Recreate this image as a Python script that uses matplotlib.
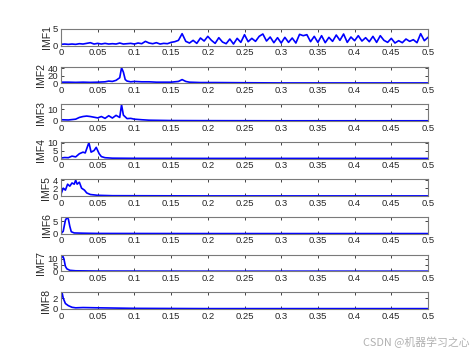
import matplotlib
matplotlib.use("Agg")
import matplotlib.pyplot as plt
import numpy as np

plt.rcParams['font.family'] = ['Liberation Sans', 'DejaVu Sans']

labels = ["IMF1", "IMF2", "IMF3", "IMF4", "IMF5", "IMF6", "IMF7", "IMF8"]
xticks = [0, 0.05, 0.1, 0.15, 0.2, 0.25, 0.3, 0.35, 0.4, 0.45, 0.5]
xticklabels = ["0", "0.05", "0.1", "0.15", "0.2", "0.25", "0.3", "0.35", "0.4", "0.45", "0.5"]

f1 = [i * 0.005 for i in range(101)]
a1 = [0.4, 0.5, 0.4, 0.5, 0.4, 0.6, 0.5, 0.7, 0.9, 0.5,
      0.7, 0.5, 0.7, 0.5, 0.6, 0.5, 0.8, 0.5, 0.6, 0.7,
      0.5, 0.8, 0.6, 1.3, 0.8, 0.6, 0.9, 0.5, 0.7, 0.6,
      1.0, 1.2, 1.6, 3.6, 1.3, 0.8, 1.6, 0.7, 2.3, 1.4,
      2.8, 1.6, 0.7, 2.4, 1.1, 0.6, 2.0, 0.5, 2.2, 1.0,
      3.3, 1.2, 2.2, 1.3, 2.8, 3.5, 1.4, 2.6, 0.9, 2.4,
      0.8, 2.5, 1.0, 2.3, 0.8, 3.4, 3.0, 3.3, 1.2, 2.8,
      1.0, 3.0, 0.9, 2.5, 1.3, 3.2, 1.6, 3.5, 1.0, 2.6,
      1.5, 3.0, 1.4, 2.4, 1.2, 2.8, 1.0, 3.0, 1.6, 1.0,
      2.2, 0.8, 1.5, 0.9, 2.0, 1.3, 1.8, 0.9, 3.6, 1.5,
      2.5]

f2 = [0, 0.01, 0.02, 0.03, 0.04, 0.05, 0.06, 0.065, 0.07, 0.075, 0.08, 0.0825, 0.085,
      0.0875, 0.09, 0.095, 0.1, 0.11, 0.12, 0.13, 0.14, 0.15, 0.16, 0.165, 0.17, 0.175,
      0.19, 0.21, 0.25, 0.3, 0.35, 0.4, 0.45, 0.5]
a2 = [3, 3, 2.5, 3, 2.5, 3, 4, 6, 5, 8, 15, 42, 30,
      10, 6, 4, 5, 4, 4, 3, 3, 3, 5, 10, 5, 3,
      2, 2, 1.5, 1, 1, 1, 1, 1]

f3 = [0, 0.01, 0.02, 0.025, 0.03, 0.035, 0.04, 0.045, 0.05, 0.055, 0.06, 0.065, 0.07,
      0.075, 0.08, 0.0825, 0.085, 0.09, 0.095, 0.1, 0.11, 0.12, 0.15, 0.2, 0.3, 0.5]
a3 = [1.0, 0.8, 1.5, 3.0, 3.8, 4.2, 3.8, 3.2, 2.6, 3.8, 2.2, 4.5, 2.5,
      4.8, 3.0, 14.0, 5.0, 2.0, 2.2, 1.5, 1.0, 0.6, 0.3, 0.2, 0.1, 0.1]

f4 = [0, 0.005, 0.01, 0.015, 0.02, 0.025, 0.03, 0.033, 0.038, 0.041, 0.045, 0.048,
      0.052, 0.055, 0.06, 0.07, 0.1, 0.2, 0.5]
a4 = [0.3, 0.6, 0.5, 1.5, 1.0, 3.0, 4.0, 3.5, 10.0, 4.0, 5.0, 7.0,
      3.0, 1.2, 0.5, 0.2, 0.1, 0.05, 0.05]

f5 = [0, 0.003, 0.006, 0.009, 0.012, 0.015, 0.018, 0.02, 0.022, 0.025, 0.028, 0.032,
      0.035, 0.04, 0.05, 0.07, 0.2, 0.5]
a5 = [0.5, 2.0, 1.5, 3.0, 2.5, 3.3, 3.0, 4.0, 3.0, 3.5, 2.0, 1.5,
      0.8, 0.4, 0.2, 0.1, 0.05, 0.05]

f6 = [0, 0.003, 0.006, 0.008, 0.01, 0.012, 0.014, 0.018, 0.03, 0.05, 0.2, 0.5]
a6 = [0.0, 1.0, 5.5, 6.5, 6.0, 3.0, 0.8, 0.3, 0.2, 0.1, 0.05, 0.05]

f7 = [0, 0.002, 0.004, 0.006, 0.008, 0.012, 0.02, 0.05, 0.2, 0.5]
a7 = [10.0, 13.0, 10.0, 4.0, 2.0, 0.8, 0.4, 0.2, 0.1, 0.1]

f8 = [0, 0.0015, 0.003, 0.006, 0.01, 0.015, 0.02, 0.03, 0.05, 0.1, 0.2, 0.5]
a8 = [2.0, 3.0, 2.0, 1.0, 0.6, 0.3, 0.2, 0.25, 0.2, 0.1, 0.05, 0.05]

ylims = [5, 45, 14.5, 10.5, 4.2, 6.8, 13.5, 3.1]
yticks = [[0, 5], [0, 20, 40], [0, 10], [0, 5, 10], [0, 2, 4], [0, 5], [0, 5, 10], [0, 2]]

freqs = [f1, f2, f3, f4, f5, f6, f7, f8]
amps = [a1, a2, a3, a4, a5, a6, a7, a8]

W, H = 474, 355
fig = plt.figure(figsize=(W / 100, H / 100), dpi=100)
left, right = 61, 428
ax_h = 16.7
fs = 6.8
for i in range(8):
    top = 29 + 37.6 * i
    ax = fig.add_axes([left / W, 1 - (top + ax_h) / H, (right - left) / W, ax_h / H])
    ax.plot(freqs[i], amps[i], color='#0000ff', lw=1.2)
    ax.set_xlim(0, 0.5)
    ax.set_ylim(0, ylims[i])
    ax.set_xticks(xticks)
    ax.set_xticklabels(xticklabels)
    ax.set_yticks(yticks[i])
    ax.tick_params(direction='in', length=2.5, width=0.6, top=True, right=True,
                   labelsize=fs, colors='#262626', pad=2)
    for s in ax.spines.values():
        s.set_color('#7a7a7a')
        s.set_linewidth(0.8)
    ax.set_ylabel(labels[i], fontsize=fs + 0.8, color='#262626', labelpad=1)

fig.text(0.99, 0.02, "CSDN @机器学习之心", ha='right', va='bottom', fontsize=7.8,
         color='#b0b0b0', family=['Noto Sans CJK SC', 'DejaVu Sans'])

fig.savefig("out.png", dpi=100, facecolor='white')
